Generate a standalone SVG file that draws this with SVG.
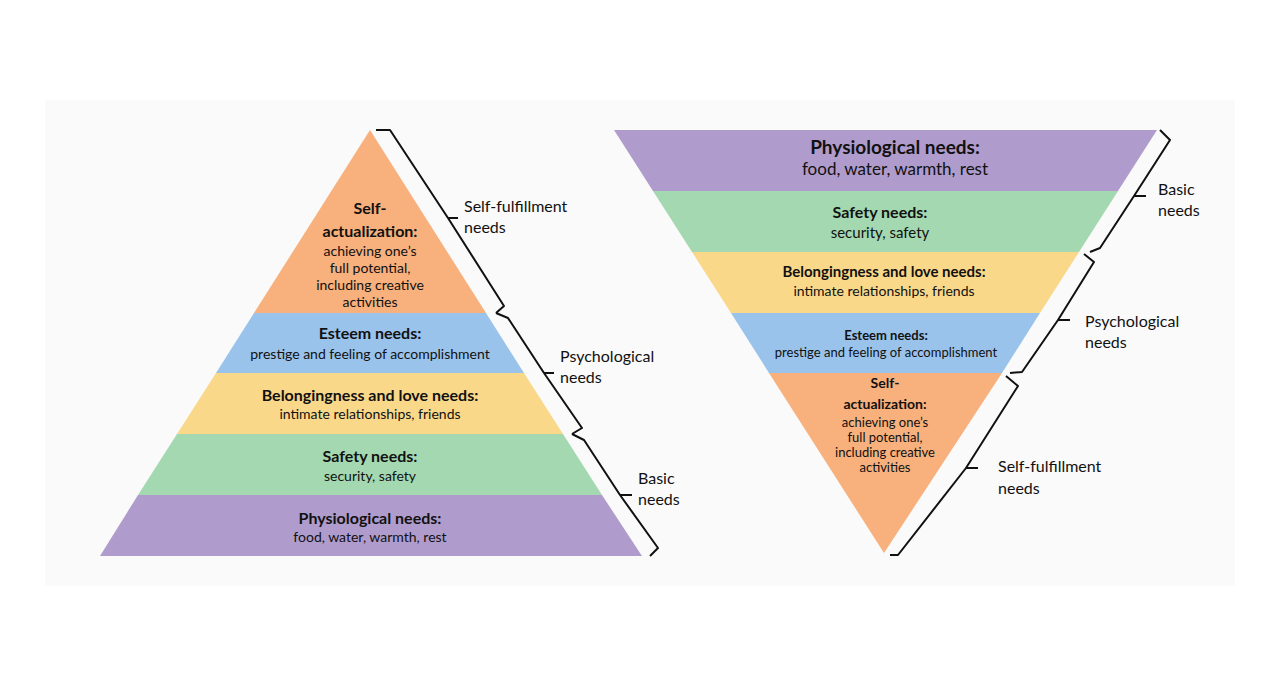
<svg xmlns="http://www.w3.org/2000/svg" width="1280" height="686" viewBox="0 0 1280 686">
<style>
.b{font-family:Lato,"Noto Sans",sans-serif;font-weight:bold;fill:#111;text-anchor:middle}
.t{font-family:Lato,"Noto Sans",sans-serif;fill:#111;text-anchor:middle}
.l{font-family:Lato,"Noto Sans",sans-serif;fill:#111;font-size:16px}
.br{fill:none;stroke:#111;stroke-width:2;stroke-linejoin:round}
</style>
<rect width="1280" height="686" fill="#fff"/>
<rect x="45" y="100" width="1190" height="486" fill="#fafafa"/>
<g id="left-pyramid">
<g id="l-self"><polygon points="370,130 486,313 254,313" fill="#f8b07c"/>
<text class="b" font-size="16"><tspan x="370" y="214">Self-</tspan><tspan x="370" y="237">actualization:</tspan></text>
<text class="t" font-size="14"><tspan x="370" y="256">achieving one’s</tspan><tspan x="370" y="273">full potential,</tspan><tspan x="370" y="290">including creative</tspan><tspan x="370" y="307">activities</tspan></text></g>
<g id="l-esteem"><polygon points="254,313 486,313 524,373 216,373" fill="#9ac3ec"/>
<text class="b" font-size="16" x="370" y="339">Esteem needs:</text>
<text class="t" font-size="14" x="370" y="359">prestige and feeling of accomplishment</text></g>
<g id="l-belong"><polygon points="216,373 524,373 563,434 177,434" fill="#fad88a"/>
<text class="b" font-size="16" x="370" y="401">Belongingness and love needs:</text>
<text class="t" font-size="14" x="370" y="419">intimate relationships, friends</text></g>
<g id="l-safety"><polygon points="177,434 563,434 602,495 138,495" fill="#a4d8b0"/>
<text class="b" font-size="16" x="370" y="462">Safety needs:</text>
<text class="t" font-size="14" x="370" y="481">security, safety</text></g>
<g id="l-phys"><polygon points="138,495 602,495 642,556 100,556" fill="#b09ccc"/>
<text class="b" font-size="16" x="370" y="524">Physiological needs:</text>
<text class="t" font-size="14" x="370" y="542">food, water, warmth, rest</text></g>
</g>
<g id="right-pyramid">
<g id="r-phys"><polygon points="614,130 1157,130 1118,191 653,191" fill="#b09ccc"/>
<text class="b" font-size="19" x="895" y="154">Physiological needs:</text>
<text class="t" font-size="17" x="895" y="175">food, water, warmth, rest</text></g>
<g id="r-safety"><polygon points="653,191 1118,191 1079,252 692,252" fill="#a4d8b0"/>
<text class="b" font-size="16" x="880" y="218">Safety needs:</text>
<text class="t" font-size="15" x="880" y="238">security, safety</text></g>
<g id="r-belong"><polygon points="692,252 1079,252 1040,313 731,313" fill="#fad88a"/>
<text class="b" font-size="15" x="884" y="277">Belongingness and love needs:</text>
<text class="t" font-size="14" x="884" y="296">intimate relationships, friends</text></g>
<g id="r-esteem"><polygon points="731,313 1040,313 1002,373 769,373" fill="#9ac3ec"/>
<text class="b" font-size="13" x="886" y="340">Esteem needs:</text>
<text class="t" font-size="13" x="886" y="357">prestige and feeling of accomplishment</text></g>
<g id="r-self"><polygon points="769,373 1002,373 884,553" fill="#f8b07c"/>
<text class="b" font-size="14"><tspan x="885" y="388">Self-</tspan><tspan x="885" y="409">actualization:</tspan></text>
<text class="t" font-size="13"><tspan x="885" y="427">achieving one’s</tspan><tspan x="885" y="442">full potential,</tspan><tspan x="885" y="457">including creative</tspan><tspan x="885" y="472">activities</tspan></text>
</g>
</g>
<g id="connectors">
<path class="br" d="M376,130 H390 L448,218 H458 M448,218 L504,306 L496,313 M496,313 L508,318 L544,373 H554 M544,373 L582,428 L572,434 M572,434 L584,440 L620,495 H632 M620,495 L658,548 L650,556"/>
<path class="br" d="M1160,130 L1170,140 L1134,196 H1146 M1134,196 L1100,248 L1090,252 M1084,254 L1094,262 L1058,320 H1070 M1058,320 L1022,372 L1010,373 M1006,376 L1018,386 L966,468 H978 M966,468 L898,555 L890,555"/>
</g>
<g id="labels">
<text class="l"><tspan x="464" y="212">Self-fulfillment</tspan><tspan x="464" y="233">needs</tspan></text>
<text class="l"><tspan x="560" y="362">Psychological</tspan><tspan x="560" y="383">needs</tspan></text>
<text class="l"><tspan x="638" y="484">Basic</tspan><tspan x="638" y="505">needs</tspan></text>
<text class="l"><tspan x="1158" y="195">Basic</tspan><tspan x="1158" y="216">needs</tspan></text>
<text class="l"><tspan x="1085" y="327">Psychological</tspan><tspan x="1085" y="348">needs</tspan></text>
<text class="l"><tspan x="998" y="472">Self-fulfillment</tspan><tspan x="998" y="494">needs</tspan></text>
</g>
</svg>
